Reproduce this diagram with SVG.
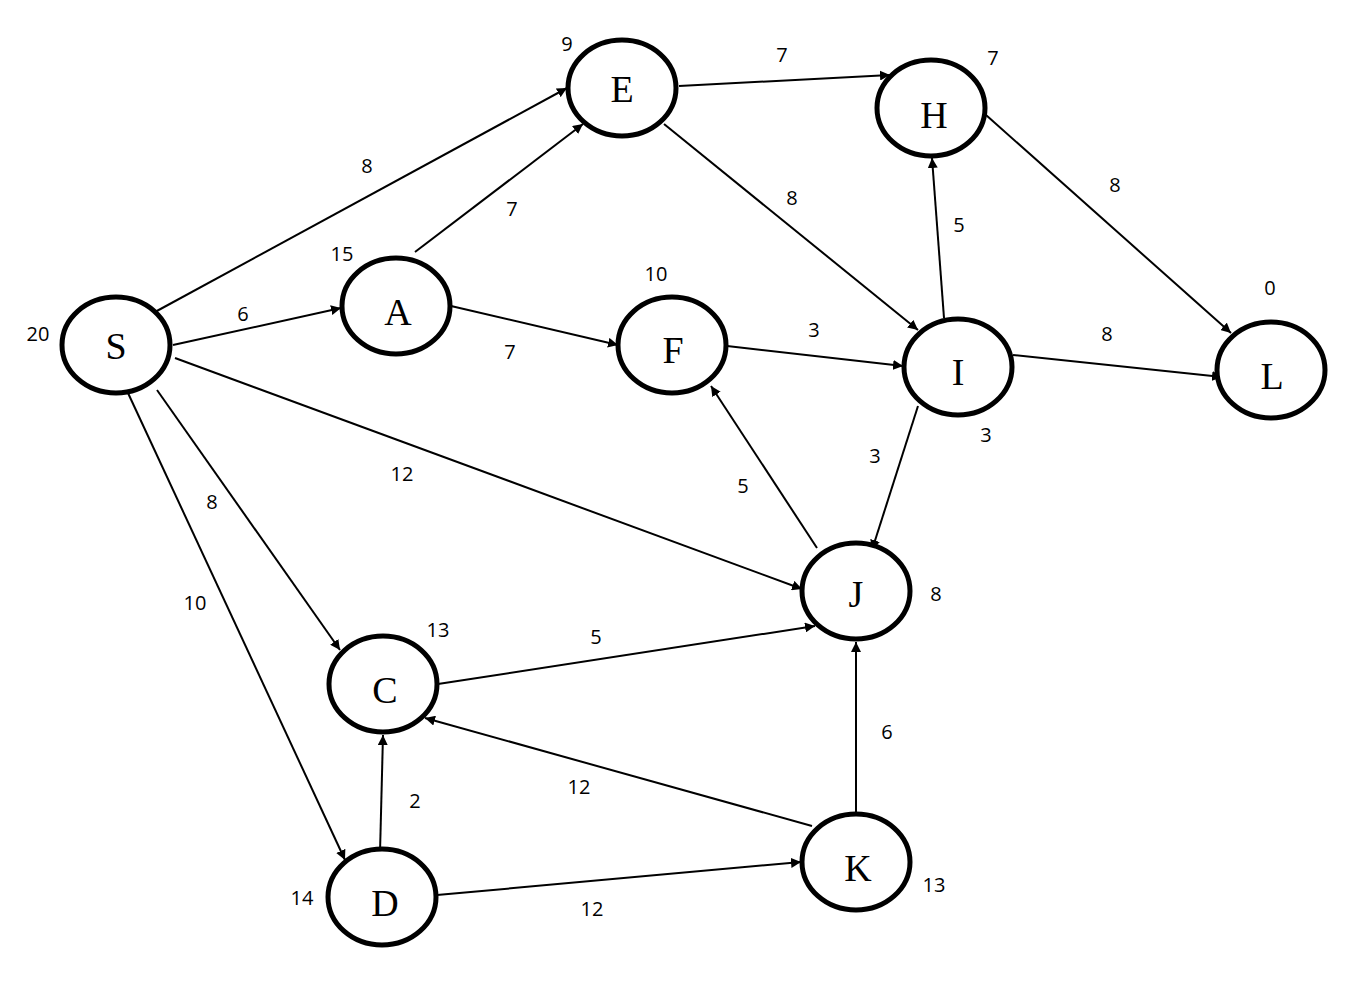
<svg xmlns="http://www.w3.org/2000/svg" width="1364" height="990" viewBox="0 0 1364 990">
<style>
.n ellipse{fill:#fff;stroke:#000;stroke-width:5}
.n text{font-family:"Liberation Serif",serif;font-size:38px;text-anchor:middle}
.c line{stroke:#000;stroke-width:2;marker-end:url(#a)}
.w{font-family:"Open Sans",sans-serif;font-size:20px;text-anchor:middle}
</style>
<defs><marker id="a" viewBox="0 0 10 10" refX="10" refY="5" markerWidth="10" markerHeight="10" markerUnits="userSpaceOnUse" orient="auto"><path d="M0,0L10,5L0,10z"/></marker></defs>
<rect width="1364" height="990" fill="#fff"/>
<g class="c">
<line x1="155" y1="312" x2="567" y2="88"/>
<line x1="415" y1="252" x2="583" y2="124"/>
<line x1="679" y1="86" x2="890" y2="75"/>
<line x1="664" y1="124" x2="918" y2="330"/>
<line x1="986" y1="115" x2="1231" y2="333"/>
<line x1="451" y1="306" x2="618" y2="345"/>
<line x1="727" y1="346" x2="903" y2="366"/>
<line x1="944" y1="318" x2="932" y2="158"/>
<line x1="1013" y1="355" x2="1222" y2="377"/>
<line x1="918" y1="406" x2="872" y2="550"/>
<line x1="817" y1="548" x2="711" y2="386"/>
<line x1="173" y1="345" x2="341" y2="308"/>
<line x1="175" y1="358" x2="802" y2="589"/>
<line x1="157" y1="390" x2="340" y2="650"/>
<line x1="128" y1="393" x2="345" y2="860"/>
<line x1="438" y1="684" x2="815" y2="626"/>
<line x1="380" y1="853" x2="383" y2="735"/>
<line x1="812" y1="826" x2="425" y2="718"/>
<line x1="856" y1="812" x2="856" y2="642"/>
<line x1="437" y1="895" x2="801" y2="862"/>
</g>
<g class="n" id="S"><ellipse cx="116" cy="345" rx="54" ry="48"/><text x="116" y="359">S</text></g>
<g class="n" id="E"><ellipse cx="622" cy="88" rx="54" ry="48"/><text x="622" y="102">E</text></g>
<g class="n" id="H"><ellipse cx="931" cy="108" rx="54" ry="48"/><text x="934" y="128">H</text></g>
<g class="n" id="A"><ellipse cx="396" cy="306" rx="54" ry="48"/><text x="398" y="325">A</text></g>
<g class="n" id="F"><ellipse cx="672" cy="345" rx="54" ry="48"/><text x="673" y="363">F</text></g>
<g class="n" id="I"><ellipse cx="958" cy="367" rx="54" ry="48"/><text x="958" y="385">I</text></g>
<g class="n" id="L"><ellipse cx="1271" cy="370" rx="54" ry="48"/><text x="1272" y="389">L</text></g>
<g class="n" id="J"><ellipse cx="856" cy="591" rx="54" ry="48"/><text x="856" y="607">J</text></g>
<g class="n" id="C"><ellipse cx="383" cy="684" rx="54" ry="48"/><text x="385" y="703">C</text></g>
<g class="n" id="K"><ellipse cx="856" cy="862" rx="54" ry="48"/><text x="858" y="881">K</text></g>
<g class="n" id="D"><ellipse cx="382" cy="897" rx="54" ry="48"/><text x="385" y="916">D</text></g>
<g class="w">
<text x="38" y="341">20</text><text x="567" y="51">9</text><text x="993" y="65">7</text><text x="342" y="261">15</text><text x="656" y="281">10</text><text x="1270" y="295">0</text><text x="936" y="601">8</text><text x="438" y="637">13</text><text x="934" y="892">13</text><text x="302" y="905">14</text>
<text x="367" y="173">8</text><text x="512" y="216">7</text><text x="782" y="62">7</text><text x="792" y="205">8</text><text x="1115" y="192">8</text><text x="243" y="321">6</text><text x="510" y="359">7</text><text x="814" y="337">3</text><text x="959" y="232">5</text><text x="1107" y="341">8</text><text x="986" y="442">3</text><text x="875" y="463">3</text><text x="743" y="493">5</text><text x="402" y="481">12</text><text x="212" y="509">8</text><text x="195" y="610">10</text><text x="596" y="644">5</text><text x="415" y="808">2</text><text x="579" y="794">12</text><text x="887" y="739">6</text><text x="592" y="916">12</text>
</g>
</svg>
